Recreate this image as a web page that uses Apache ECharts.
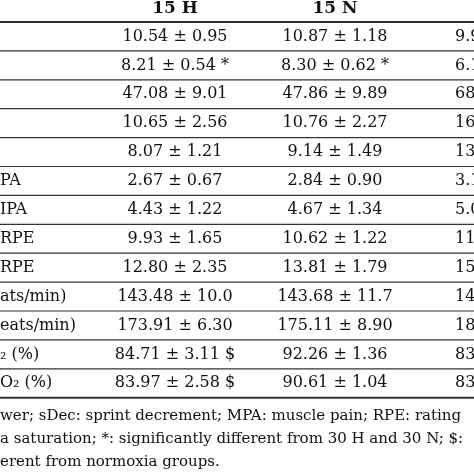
<!DOCTYPE html>
<html><head><meta charset="utf-8">
<script src="https://cdn.jsdelivr.net/npm/echarts@6/dist/echarts.min.js"></script>
<style>html,body{margin:0;padding:0;background:#fff}#c{width:474px;height:474px}</style>
</head><body><div id="c"></div>
<script>
// table content
const headers = ['15 H', '15 N'];
const rowLabels = ['', '', '', '', '', 'PA', 'IPA', 'RPE', 'RPE', 'ats/min)', 'eats/min)', '\u2082 (%)', 'O\u2082 (%)'];
const col15H = ['10.54 ± 0.95', '8.21 ± 0.54 *', '47.08 ± 9.01', '10.65 ± 2.56', '8.07 ± 1.21', '2.67 ± 0.67',
  '4.43 ± 1.22', '9.93 ± 1.65', '12.80 ± 2.35', '143.48 ± 10.0', '173.91 ± 6.30', '84.71 ± 3.11 $', '83.97 ± 2.58 $'];
const col15N = ['10.87 ± 1.18', '8.30 ± 0.62 *', '47.86 ± 9.89', '10.76 ± 2.27', '9.14 ± 1.49', '2.84 ± 0.90',
  '4.67 ± 1.34', '10.62 ± 1.22', '13.81 ± 1.79', '143.68 ± 11.7', '175.11 ± 8.90', '92.26 ± 1.36', '90.61 ± 1.04'];
const col30 = ['9.96 ± 1.02', '6.12 ± 0.71', '68.40 ± 8.12', '16.31 ± 3.02', '13.22 ± 2.11', '3.10 ± 0.88',
  '5.02 ± 1.30', '11.80 ± 1.40', '15.20 ± 1.90', '147.20 ± 9.8', '180.10 ± 7.2', '83.90 ± 3.0', '83.10 ± 2.9'];
const footnotes = ['wer; sDec: sprint decrement; MPA: muscle pain; RPE: rating',
  'a saturation; *: significantly different from 30 H and 30 N; $:',
  'erent from normoxia groups.'];

const font = '"DejaVu Serif", serif';
const top0 = 22, rowH = 28.9;
const g = [];
const txt = (x, y, s, align, bold, size) => g.push({
  type: 'text', x: x, y: y,
  style: { text: s, fill: '#111', font: (bold ? 'bold ' : '') + (size || 16) + 'px ' + font, textAlign: align, textVerticalAlign: 'middle' }
});
const line = (y, w) => g.push({ type: 'line', shape: { x1: 0, y1: y, x2: 474, y2: y }, style: { stroke: '#333', lineWidth: w } });

txt(175, 9, headers[0], 'center', true, 17);
txt(335, 9, headers[1], 'center', true, 17);
line(top0, 2);
rowLabels.forEach((lab, i) => {
  const y = top0 + rowH * i + rowH / 2;
  txt(0, y, lab, 'left');
  txt(175, y, col15H[i], 'center');
  txt(335, y, col15N[i], 'center');
  txt(455, y, col30[i], 'left');
  if (i < rowLabels.length - 1) line(top0 + rowH * (i + 1), 1.2);
});
line(top0 + rowH * rowLabels.length, 2);
footnotes.forEach((f, i) => txt(0, 416 + i * 23, f, 'left', false, 15));

const chart = echarts.init(document.getElementById('c'));
chart.setOption({ animation: false, graphic: g });
</script></body></html>
